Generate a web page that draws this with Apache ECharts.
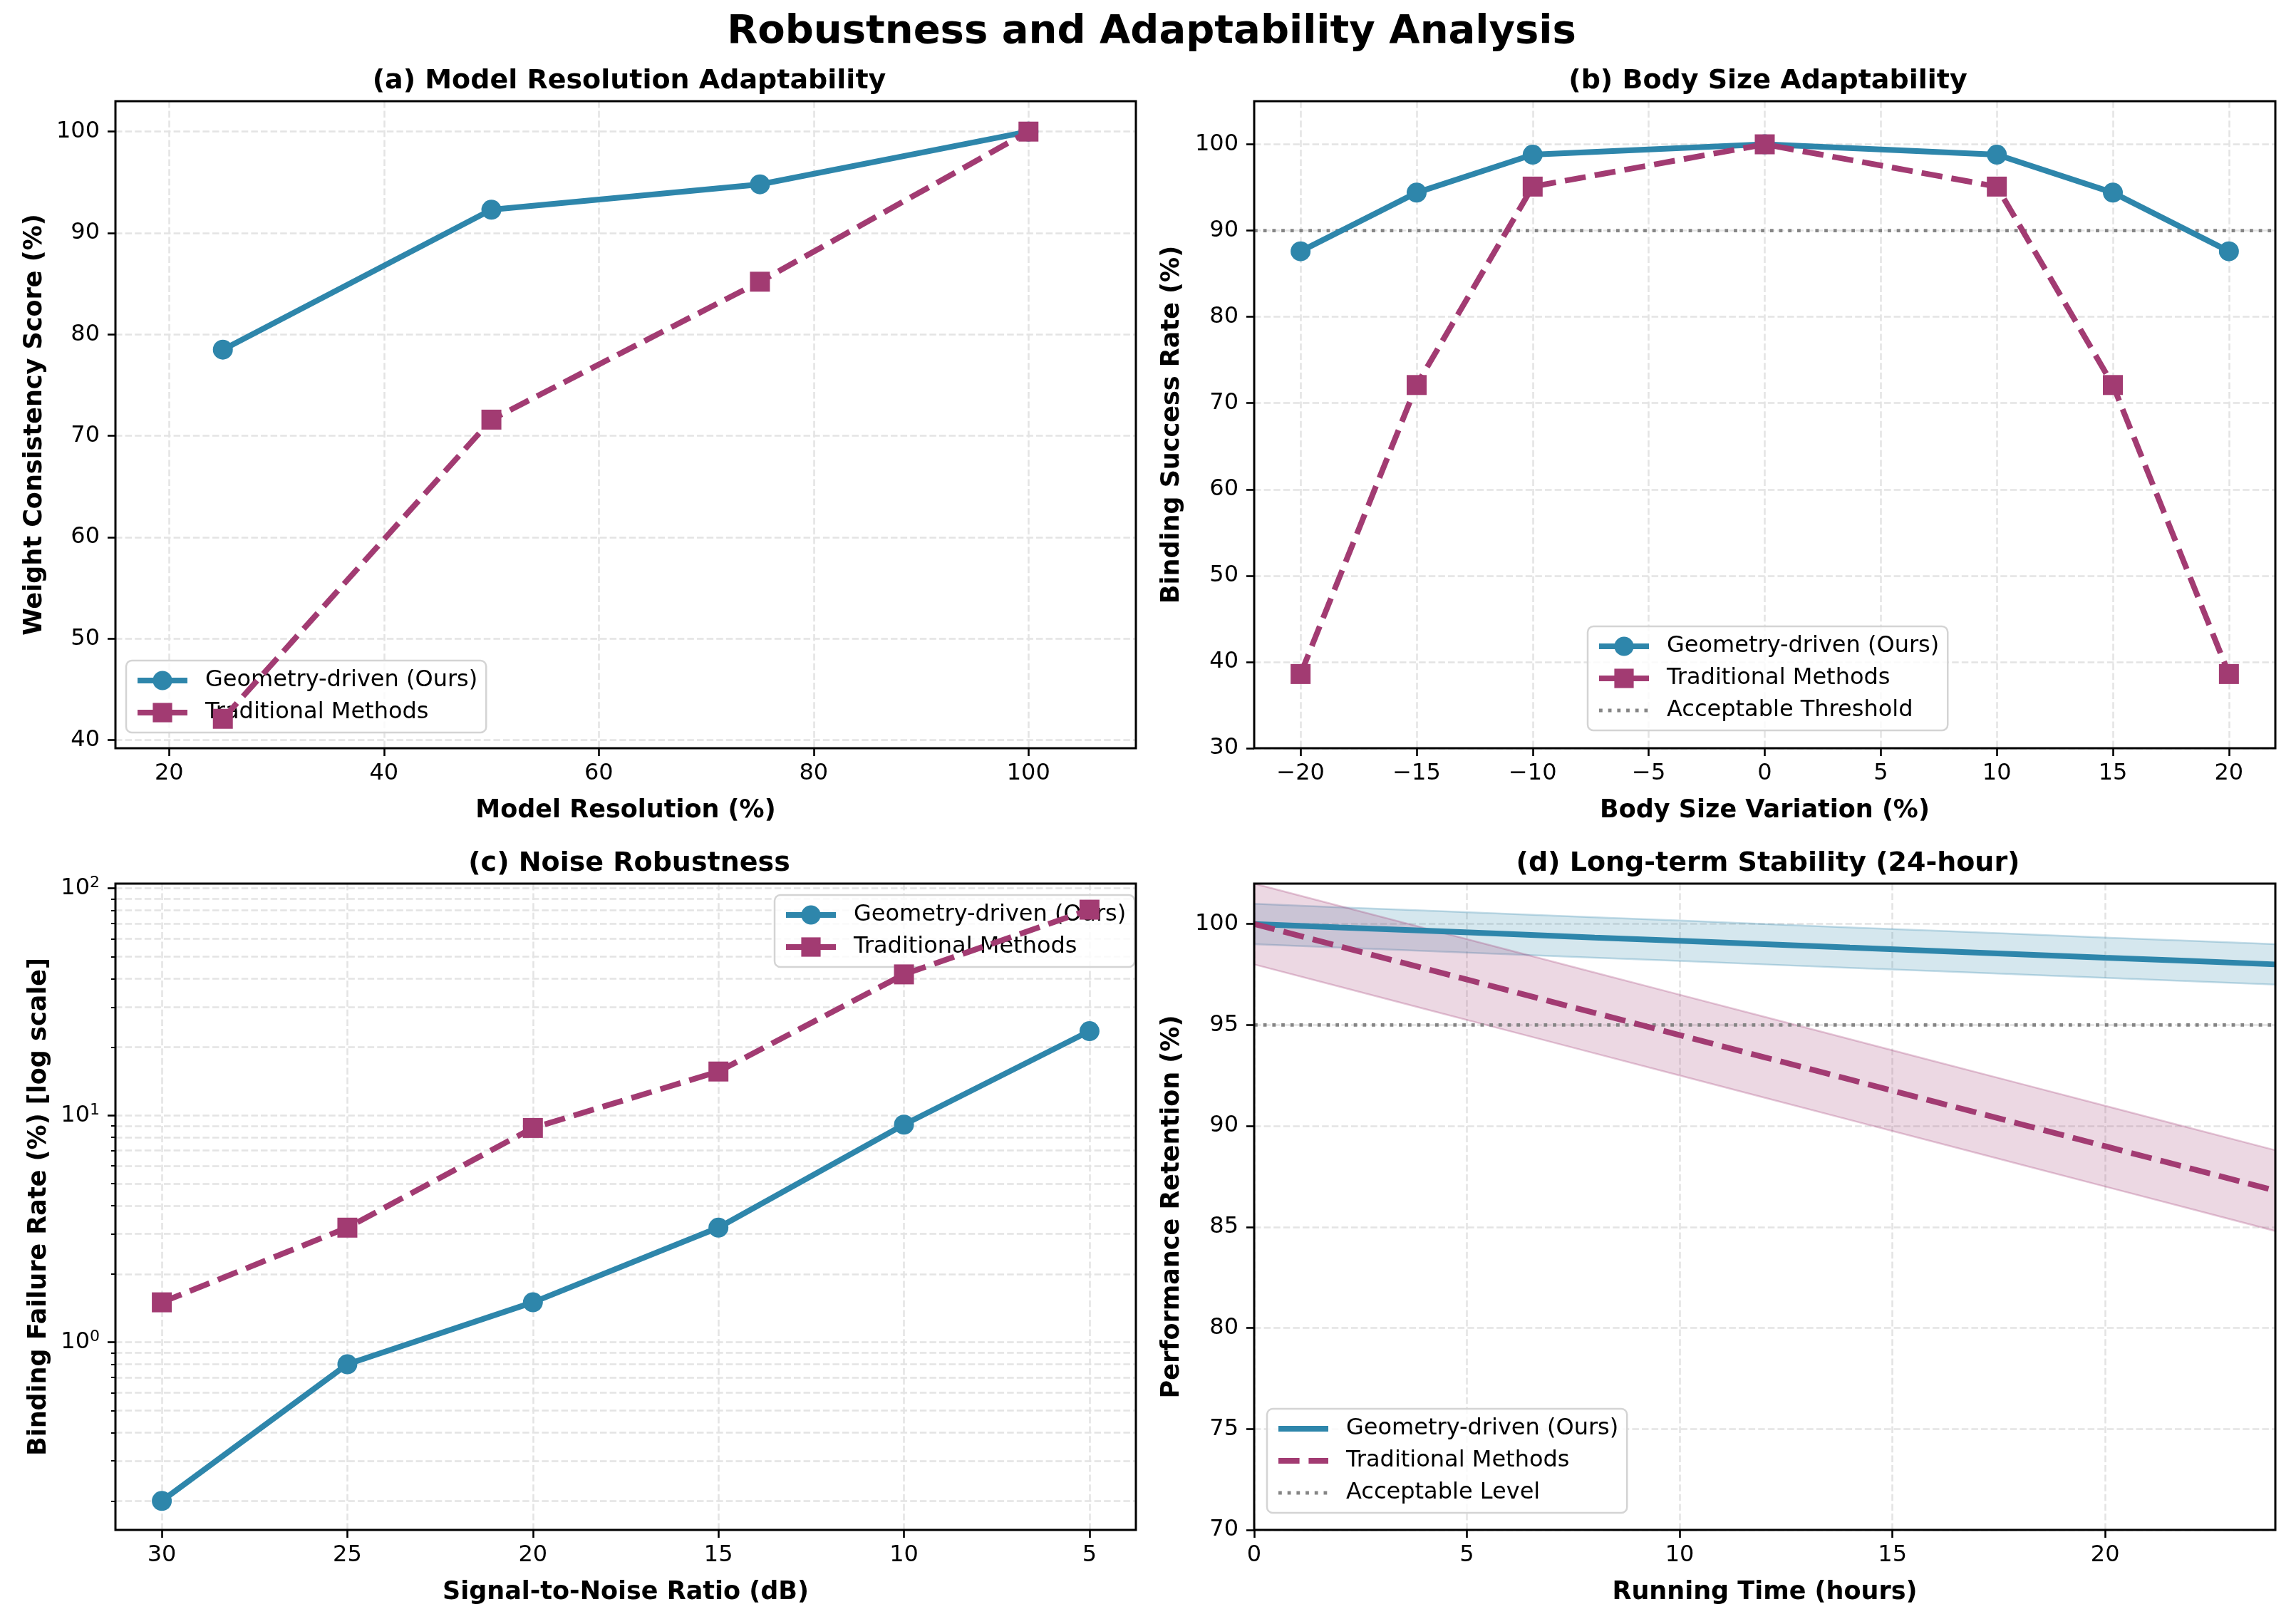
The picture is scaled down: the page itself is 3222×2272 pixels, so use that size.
<!DOCTYPE html>
<html>
<head>
<meta charset="utf-8">
<title>Robustness and Adaptability Analysis</title>
<script src="https://cdn.jsdelivr.net/npm/echarts@6/dist/echarts.min.js"></script>
<style>
  html, body { margin: 0; padding: 0; background: #fff; }
  #chart { width: 3222px; height: 2272px; }
</style>
</head>
<body>
<div id="chart"></div>
<script>
// (a) model resolution
const resolution = [25, 50, 75, 100];
const resGeometry = [78.5, 92.3, 94.8, 100];
const resTraditional = [42.1, 71.6, 85.2, 100];
const resTicksX = [20, 40, 60, 80, 100];
const resTicksY = [40, 50, 60, 70, 80, 90, 100];

// (b) body size
const bodyVariation = [-20, -15, -10, 0, 10, 15, 20];
const bodyGeometry = [87.6, 94.4, 98.8, 100, 98.8, 94.4, 87.6];
const bodyTraditional = [38.6, 72.1, 95.1, 100, 95.1, 72.1, 38.6];
const bodyThreshold = 90;
const bodyRangeX = [-22, 22];
const bodyTicksX = [-20, -15, -10, -5, 0, 5, 10, 15, 20];
const bodyTicksY = [30, 40, 50, 60, 70, 80, 90, 100];

// (c) noise robustness (log scale)
const snr = [30, 25, 20, 15, 10, 5];
const noiseGeometry = [0.2, 0.8, 1.5, 3.2, 9.1, 23.5];
const noiseTraditional = [1.5, 3.2, 8.8, 15.6, 41.8, 80.6];
const snrTicks = [30, 25, 20, 15, 10, 5];
const noiseMajor = [1, 10, 100];
const noiseMinor = [0.2, 0.3, 0.4, 0.5, 0.6, 0.7, 0.8, 0.9, 2, 3, 4, 5, 6, 7, 8, 9, 20, 30, 40, 50, 60, 70, 80, 90];

// (d) long-term stability
const hours = [0, 2, 4, 6, 8, 10, 12, 14, 16, 18, 20, 22, 24];
const stabGeometry = [100, 99.83, 99.67, 99.5, 99.33, 99.17, 99.0, 98.83, 98.67, 98.5, 98.33, 98.17, 98.0];
const stabGeometryUpper = [101, 100.83, 100.67, 100.5, 100.33, 100.17, 100.0, 99.83, 99.67, 99.5, 99.33, 99.17, 99.0];
const stabGeometryLower = [99, 98.83, 98.67, 98.5, 98.33, 98.17, 98.0, 97.83, 97.67, 97.5, 97.33, 97.17, 97.0];
const stabTraditional = [100, 98.9, 97.8, 96.7, 95.6, 94.5, 93.4, 92.3, 91.2, 90.1, 89.0, 87.9, 86.8];
const stabTraditionalUpper = [102, 100.9, 99.8, 98.7, 97.6, 96.5, 95.4, 94.3, 93.2, 92.1, 91.0, 89.9, 88.8];
const stabTraditionalLower = [98, 96.9, 95.8, 94.7, 93.6, 92.5, 91.4, 90.3, 89.2, 88.1, 87.0, 85.9, 84.8];
const stabThreshold = 95;
const stabRangeX = [0, 24];
const hourTicks = [0, 5, 10, 15, 20];
const stabTicksY = [70, 75, 80, 85, 90, 95, 100];

const FONT = 'DejaVu Sans';
const BLUE = '#2E86AB';
const MAGENTA = '#A23B72';
const GEO = 'Geometry-driven (Ours)';
const TRAD = 'Traditional Methods';
const DASH = [29.6, 12.8];
const DOT = [4.8, 7.9];

// frame drawn above grid lines (z) so boundary split lines don't show over it
const grids = [
  { left: 162, top: 142, width: 1432, height: 908 },
  { left: 1760, top: 142, width: 1433, height: 908 },
  { left: 162, top: 1240, width: 1432, height: 907 },
  { left: 1760, top: 1240, width: 1433, height: 907 }
].map(g => Object.assign(g, {
  show: true, z: 5, borderColor: '#000', borderWidth: 3, backgroundColor: 'transparent',
  containLabel: false, outerBoundsMode: 'none'
}));

const gridLine = { show: true, lineStyle: { color: '#e4e4e4', width: 2.5, type: [9.5, 4.1] } };

function axis(kind, grid, name, ticks, min, max, gap, extra) {
  return Object.assign({
    type: 'value', gridIndex: grid, min: min, max: max,
    name: name, nameLocation: 'middle', nameGap: gap,
    nameRotate: kind === 'y' ? 90 : 0,
    nameTextStyle: { fontFamily: FONT, fontWeight: 'bold', fontSize: 35, color: '#000' },
    axisLine: { show: false, onZero: false },
    axisTick: { show: true, length: 11, lineStyle: { color: '#000', width: 2.6 }, customValues: ticks },
    axisLabel: { fontFamily: FONT, fontSize: 32, color: '#000', margin: kind === 'y' ? 22 : 20, customValues: ticks },
    splitLine: gridLine
  }, extra || {});
}

const xAxes = [
  axis('x', 0, 'Model Resolution (%)', resTicksX, 15, 110, 70),
  axis('x', 1, 'Body Size Variation (%)', bodyTicksX, bodyRangeX[0], bodyRangeX[1], 70, {
    axisLabel: { fontFamily: FONT, fontSize: 32, color: '#000', margin: 20, customValues: bodyTicksX,
      formatter: v => String(v).replace('-', '\u2212') }
  }),
  axis('x', 2, 'Signal-to-Noise Ratio (dB)', snrTicks, 3.75, 31.25, 70, { inverse: true }),
  axis('x', 3, 'Running Time (hours)', hourTicks, stabRangeX[0], stabRangeX[1], 70)
];

const yAxes = [
  axis('y', 0, 'Weight Consistency Score (%)', resTicksY, 39.2, 103, 96),
  axis('y', 1, 'Binding Success Rate (%)', bodyTicksY, 30, 105, 98),
  axis('y', 2, 'Binding Failure Rate (%) [log scale]', noiseMajor, 0.149, 105, 90, {
    type: 'log', logBase: 10,
    axisLabel: {
      customValues: noiseMajor, margin: 22,
      formatter: v => '{b|10}{s|' + Math.round(Math.log10(v)) + '}',
      rich: {
        b: { fontFamily: FONT, fontSize: 32, color: '#000', lineHeight: 36 },
        s: { fontFamily: FONT, fontSize: 22, color: '#000', lineHeight: 22, verticalAlign: 'top' }
      }
    }
  }),
  axis('y', 3, 'Performance Retention (%)', stabTicksY, 70, 102, 98),
  // minor ticks / grid of the log axis
  {
    type: 'log', logBase: 10, gridIndex: 2, position: 'left', min: 0.149, max: 105,
    axisLine: { show: false, onZero: false },
    axisLabel: { show: false },
    axisTick: { show: true, length: 6, lineStyle: { color: '#000', width: 2 }, customValues: noiseMinor },
    splitLine: gridLine
  }
];

function pairs(xs, ys) { return xs.map((x, i) => [x, ys[i]]); }

function marked(name, i, xs, ys, color, symbol, dash) {
  return {
    name: name, type: 'line', xAxisIndex: i, yAxisIndex: i, data: pairs(xs, ys),
    symbol: symbol, symbolSize: 28, z: 4,
    lineStyle: { color: color, width: 8, type: dash ? DASH : 'solid' },
    itemStyle: { color: color }
  };
}

function threshold(name, i, range, value) {
  return {
    name: name, type: 'line', xAxisIndex: i, yAxisIndex: i, symbol: 'none', z: 2,
    data: range.map(x => [x, value]),
    lineStyle: { color: '#858585', width: 4.8, type: DOT },
    itemStyle: { color: '#858585' }
  };
}

// shaded band between lower and upper, drawn as one polygon through the axes
function band(key, xs, lower, upper, rgb) {
  return {
    name: key, type: 'custom', xAxisIndex: 3, yAxisIndex: 3, z: 1,
    data: xs.map((x, i) => [x, lower[i], upper[i]]),
    encode: { x: 0, y: [1, 2] },
    renderItem: (params, api) => {
      if (params.dataIndex !== 0) return;
      const top = xs.map((x, i) => api.coord([x, upper[i]]));
      const bottom = xs.map((x, i) => api.coord([x, lower[i]])).reverse();
      return {
        type: 'polygon',
        shape: { points: top.concat(bottom) },
        style: { fill: 'rgba(' + rgb + ',0.2)', stroke: 'rgba(' + rgb + ',0.28)', lineWidth: 2.5 }
      };
    }
  };
}

const series = [
  marked(GEO, 0, resolution, resGeometry, BLUE, 'circle', false),
  marked(TRAD, 0, resolution, resTraditional, MAGENTA, 'rect', true),
  threshold('Acceptable Threshold', 1, bodyRangeX, bodyThreshold),
  marked(GEO, 1, bodyVariation, bodyGeometry, BLUE, 'circle', false),
  marked(TRAD, 1, bodyVariation, bodyTraditional, MAGENTA, 'rect', true),
  marked(GEO, 2, snr, noiseGeometry, BLUE, 'circle', false),
  marked(TRAD, 2, snr, noiseTraditional, MAGENTA, 'rect', true),
  band('geoBand', hours, stabGeometryLower, stabGeometryUpper, '46,134,171'),
  band('tradBand', hours, stabTraditionalLower, stabTraditionalUpper, '162,59,114'),
  threshold('Acceptable Level', 3, stabRangeX, stabThreshold),
  { name: GEO + ' ', type: 'line', xAxisIndex: 3, yAxisIndex: 3, data: pairs(hours, stabGeometry),
    symbol: 'none', z: 4, lineStyle: { color: BLUE, width: 8 }, itemStyle: { color: BLUE } },
  { name: TRAD + ' ', type: 'line', xAxisIndex: 3, yAxisIndex: 3, data: pairs(hours, stabTraditional),
    symbol: 'none', z: 4, lineStyle: { color: MAGENTA, width: 8, type: DASH }, itemStyle: { color: MAGENTA } }
];

function legend(left, top, items) {
  return {
    orient: 'vertical', left: left, top: top, data: items, selectedMode: false,
    itemWidth: 70, itemHeight: 34, itemGap: 13, padding: [12, 12],
    backgroundColor: 'rgba(255,255,255,0.8)', borderColor: '#d4d4d4', borderWidth: 2.5, borderRadius: 8,
    textStyle: { fontFamily: FONT, fontSize: 32, color: '#000', padding: [0, 0, 0, 20] },
    lineStyle: { width: 8 },
    formatter: n => n.trim()
  };
}
const noMark = { opacity: 0 };
const dotLine = { width: 4.8 };

const titleStyle = { fontFamily: FONT, fontWeight: 'bold', fontSize: 38, color: '#000' };

const option = {
  animation: false,
  backgroundColor: '#fff',
  title: [
    { text: 'Robustness and Adaptability Analysis', left: 1611, top: 12, textAlign: 'center',
      textStyle: { fontFamily: FONT, fontWeight: 'bold', fontSize: 56, color: '#000' } },
    { text: '(a) Model Resolution Adaptability', left: 878, top: 90, textAlign: 'center', textStyle: titleStyle },
    { text: '(b) Body Size Adaptability', left: 2476, top: 90, textAlign: 'center', textStyle: titleStyle },
    { text: '(c) Noise Robustness', left: 878, top: 1188, textAlign: 'center', textStyle: titleStyle },
    { text: '(d) Long-term Stability (24-hour)', left: 2476, top: 1188, textAlign: 'center', textStyle: titleStyle }
  ],
  grid: grids,
  xAxis: xAxes,
  yAxis: yAxes,
  legend: [
    legend(177, 927, [{ name: GEO }, { name: TRAD }]),
    legend(2228, 879, [{ name: GEO }, { name: TRAD },
      { name: 'Acceptable Threshold', itemStyle: noMark, lineStyle: dotLine }]),
    legend(1087, 1256, [{ name: GEO }, { name: TRAD }]),
    legend(1778, 1977, [{ name: GEO + ' ', itemStyle: noMark }, { name: TRAD + ' ', itemStyle: noMark },
      { name: 'Acceptable Level', itemStyle: noMark, lineStyle: dotLine }])
  ],
  series: series
};

const chart = echarts.init(document.getElementById('chart'), null, { renderer: 'canvas' });
chart.setOption(option);
window.addEventListener('resize', () => chart.resize());
</script>
</body>
</html>
